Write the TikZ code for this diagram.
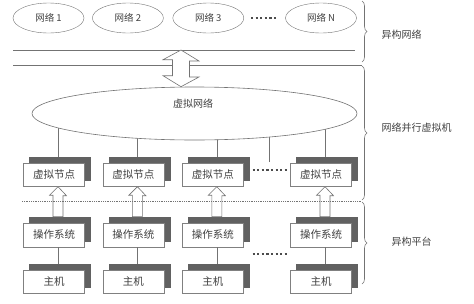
\documentclass[tikz,border=0pt]{standalone}
\usepackage{fontspec}
\setmainfont{Noto Sans CJK SC}
\usetikzlibrary{positioning,shapes.geometric,shadows,decorations.pathreplacing,backgrounds}

\begin{document}
\begin{tikzpicture}[
    x=1pt,y=-1pt,
    net/.style={ellipse,draw=black!55,minimum width=71pt,minimum height=30pt,inner sep=0pt,text=black!75,font=\fontsize{9.5}{10}\selectfont},
    box/.style={rectangle,draw=black!50,fill=white,minimum width=61pt,minimum height=23pt,inner sep=0pt,text=black!75,font=\fontsize{10.5}{11}\selectfont,
      copy shadow={shadow xshift=6pt,shadow yshift=6pt,fill=black!62,draw=black!62}},
    line/.style={draw=black!55,line width=0.6pt},
    hollow/.style={draw=black!55,fill=white,line width=0.6pt},
    dots/.style={draw=black!70,line width=2.2pt,dash pattern=on 2.2pt off 2.4pt},
    brace/.style={draw=black!55,line width=0.6pt,decorate,decoration={brace,amplitude=5pt}},
    tag/.style={anchor=west,text=black!75,font=\fontsize{10}{11}\selectfont}
    ]
    \useasboundingbox (0,0) rectangle (474,303);

    % heterogeneous networks
    \node[net] (net1) at (48.5,18) {网络 1};
    \node[net,right=8pt of net1] (net2) {网络 2};
    \node[net,right=9pt of net2] (net3) {网络 3};
    \node[net] (netN) at (321,18) {网络 N};
    \draw[dots] ([xshift=7pt]net3.east) -- ([xshift=-9pt]netN.west);

    \coordinate (bus1w) at (13,50);
    \coordinate (bus1e) at (355,50);
    \coordinate (bus2w) at (13,65);
    \coordinate (bus2e) at (362,65);
    \coordinate (link) at (181,50);
    \draw[line] (bus1w) -- (bus1e);
    \draw[line] (bus2w) -- (bus2e);

    % virtual machine
    \node[ellipse,draw=black!55,fill=white,line width=0.6pt,minimum width=325pt,minimum height=53pt,inner sep=0pt] (vnet) at (194.5,113.5) {};
    \node[text=black!75,font=\fontsize{10}{11}\selectfont] (vnettext) at (193,104) {虚拟网络};

    \draw[hollow] (link) -- ++(18,11) -- ++(-9.5,0) -- ++(0,16) -- ++(9.5,0)
        -- (link |- vnet.north) -- ++(-18,-11) -- ++(9.5,0) -- ++(0,-16) -- ++(-9.5,0) -- cycle;

    \node[box] (v1) at (54,175) {虚拟节点};
    \node[box,right=18pt of v1] (v2) {虚拟节点};
    \node[box,right=18pt of v2] (v3) {虚拟节点};
    \node[box] (v4) at (321,175) {虚拟节点};
    \coordinate (vgap) at (269,162);

    % platforms
    \foreach \i in {1,...,4} {
      \node[box,below=36pt of v\i,minimum height=24pt] (o\i) {操作系统};
      \node[box,below=23pt of o\i] (h\i) {主机};
    }

    \begin{scope}[on background layer]
      \foreach \i in {1,...,4}
        \draw[line] ([xshift=4pt]v\i.north) -- ++(0,-50);
      \draw[line] (vgap) -- ++(0,-50);
    \end{scope}

    \foreach \i in {1,...,4} {
      \draw[hollow] ([xshift=4pt]v\i.south) -- ++(8.5,9) -- ++(-3.5,0)
          -- ([xshift=9pt,yshift=6pt]o\i.north) -- ([xshift=-1pt,yshift=6pt]o\i.north)
          -- ++(0,-21.5) -- ++(-3.5,0) -- cycle;
      \draw[line] ([xshift=4pt]o\i.south) -- ([xshift=4pt,yshift=6pt]h\i.north);
    }
    \draw[dots] ([xshift=9pt,yshift=5pt]v3.east) -- ([xshift=-3pt,yshift=5pt]v4.west);
    \draw[dots] ([xshift=9pt,yshift=-6.5pt]o3.south east) -- ([xshift=-3pt,yshift=-6.5pt]o4.south west);

    \coordinate (sepw) at (22,201);
    \coordinate (sepe) at (362,201);
    \draw[line,dash pattern=on 0.8pt off 1pt] (sepw) -- (sepe);

    % braces
    \coordinate (b0) at (362,1);
    \coordinate (b1) at (362,62);
    \coordinate (b2) at (362,66);
    \coordinate (b3) at (362,200);
    \coordinate (b4) at (362,202);
    \coordinate (b5) at (362,284);
    \draw[brace] (b0) -- (b1);
    \draw[brace] (b2) -- (b3);
    \draw[brace] (b4) -- (b5);
    \node[tag] (t1) at (378,35) {异构网络};
    \node[tag] (t2) at (378,128) {网络并行虚拟机};
    \node[tag] (t3) at (388,242) {异构平台};

  \end{tikzpicture}
\end{document}
